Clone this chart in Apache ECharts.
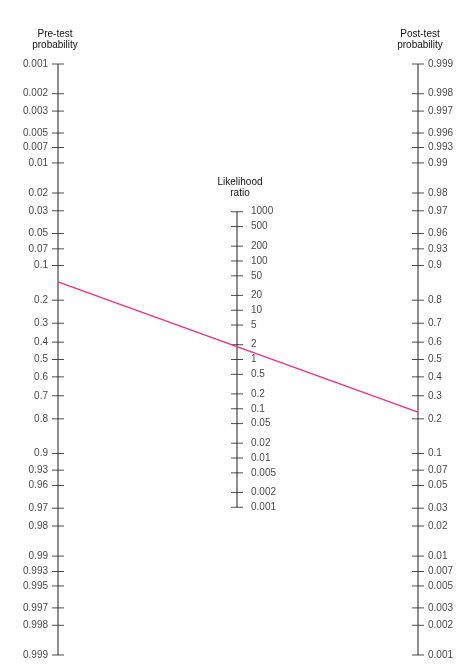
<!DOCTYPE html>
<html><head><meta charset="utf-8">
<script src="https://cdn.jsdelivr.net/npm/echarts@6/dist/echarts.min.js"></script>
<style>html,body{margin:0;padding:0;background:#fff}#c{width:474px;height:671px}</style>
</head><body><div id="c"></div>
<script>
// Pre-test probability axis (tick values and printed labels)
const preValues = [0.001,0.002,0.003,0.005,0.007,0.01,0.02,0.03,0.05,0.07,0.1,0.2,0.3,0.4,0.5,0.6,0.7,0.8,0.9,0.93,0.95,0.97,0.98,0.99,0.993,0.995,0.997,0.998,0.999];
const preLabels = ['0.001','0.002','0.003','0.005','0.007','0.01','0.02','0.03','0.05','0.07','0.1','0.2','0.3','0.4','0.5','0.6','0.7','0.8','0.9','0.93','0.96','0.97','0.98','0.99','0.993','0.995','0.997','0.998','0.999'];
// Post-test probability axis
const postValues = [0.999,0.998,0.997,0.995,0.993,0.99,0.98,0.97,0.95,0.93,0.9,0.8,0.7,0.6,0.5,0.4,0.3,0.2,0.1,0.07,0.05,0.03,0.02,0.01,0.007,0.005,0.003,0.002,0.001];
const postLabels = ['0.999','0.998','0.997','0.996','0.993','0.99','0.98','0.97','0.96','0.93','0.9','0.8','0.7','0.6','0.5','0.4','0.3','0.2','0.1','0.07','0.05','0.03','0.02','0.01','0.007','0.005','0.003','0.002','0.001'];
// Likelihood ratio axis
const lrValues = [1000,500,200,100,50,20,10,5,2,1,0.5,0.2,0.1,0.05,0.02,0.01,0.005,0.002,0.001];
const lrLabels = ['1000','500','200','100','50','20','10','5','2','1','0.5','0.2','0.1','0.05','0.02','0.01','0.005','0.002','0.001'];
// Example line
const examplePre = 0.14;
const exampleLR = 1.8;

const logit = p => Math.log(p/(1-p));
const XL = 58, XM = 237, XR = 418;
const FONT = '"Liberation Sans Narrow","Liberation Sans",sans-serif';
const L = 6.9068;

function axisSeries(x, vals, labs, posFn, side, dist){
  const pts = vals.map((v,i)=>[x, posFn(v), labs[i]]);
  const ys = pts.map(p=>p[1]);
  return [
    {type:'line', data:[[x,Math.min(...ys)],[x,Math.max(...ys)]], symbol:'none', silent:true,
     lineStyle:{color:'#222',width:1}},
    {type:'scatter', data:pts, symbol:'rect', symbolSize:[12,1], itemStyle:{color:'#222'}, silent:true,
     label:{show:true, position:side, distance:dist, formatter:p=>p.data[2],
            fontFamily:FONT, fontSize:10, color:'#111'}}
  ];
}
const preY = v => logit(v);
const postY = v => -logit(v);
const lrY = v => -Math.log(v)/2;

const postP = 1/(1+Math.exp(-(logit(examplePre)+Math.log(exampleLR))));

const chart = echarts.init(document.getElementById('c'));
const title = (x,y,t)=>({type:'text', x:x, y:y, style:{text:t, textAlign:'center', fontFamily:FONT, fontSize:10, fill:'#111', lineHeight:11}});
chart.setOption({
  animation:false,
  grid:{left:0,right:0,top:64,bottom:16},
  xAxis:{type:'value',min:0,max:474,show:false},
  yAxis:{type:'value',min:-L,max:L,inverse:true,show:false},
  series:[
    ...axisSeries(XL, preValues, preLabels, preY, 'left', 4),
    ...axisSeries(XR, postValues, postLabels, postY, 'right', 4),
    ...axisSeries(XM, lrValues, lrLabels, lrY, 'right', 8),
    {type:'line', data:[[XL,preY(examplePre)],[XR,postY(postP)]], symbol:'none', silent:true,
     lineStyle:{color:'#e8308a',width:1.3}, z:5}
  ],
  graphic:[
    title(55,29,'Pre-test\nprobability'),
    title(420,29,'Post-test\nprobability'),
    title(240,177,'Likelihood\nratio')
  ]
});
</script></body></html>
